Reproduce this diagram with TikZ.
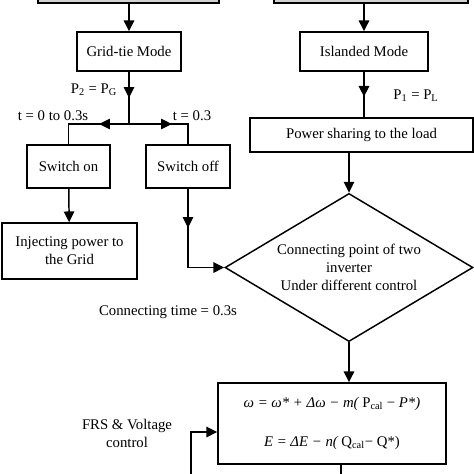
\documentclass[tikz,border=0pt]{standalone}
\usepackage{fontspec}
\setmainfont{Liberation Serif}
\usetikzlibrary{arrows.meta,shapes.geometric,decorations.markings}

\begin{document}
\begin{tikzpicture}[
    font=\fontsize{10.5}{12.8}\selectfont,
    line/.style={line width=1.05pt},
    box/.style={draw, line, align=center, inner sep=2pt},
    srcbox/.style={box, fill=gray!35, minimum height=1cm},
    decision/.style={draw, line, diamond, aspect=1.485, minimum width=6.2cm, inner sep=1pt, align=center},
    note/.style={inner sep=0pt, align=center},
    arrow/.style={line, -{Triangle[length=2.7mm,width=2.6mm]}},
    midarrow/.style={line, postaction={decorate}, decoration={markings, mark=at position #1 with {\arrow{Triangle[length=2.7mm,width=2.6mm]}}}},
    midarrow/.default=0.5
  ]
    \useasboundingbox (0,0) rectangle (11.85,-11.85);
    \clip (0,0) rectangle (11.85,-11.85);

    % sources (cut at the top)
    \node[srcbox, minimum width=4.525cm] (gridsrc) at (3.2125,0.425) {};
    \node[srcbox, minimum width=4.85cm] (islsrc) at (9.275,0.425) {};

    % left branch
    \node[box, minimum width=2.6cm, minimum height=0.975cm] (gridtie) at (3.225,-1.2875) {Grid-tie Mode};
    \node[box, minimum width=2.075cm, minimum height=1.075cm] (swon) at (1.7125,-4.1625) {Switch on};
    \node[box, minimum width=2.1cm, minimum height=1.075cm] (swoff) at (4.7,-4.1625) {Switch off};
    \node[box, minimum width=3.375cm, minimum height=1.4cm] (inject) at (1.7375,-6.275) {Injecting power to\\the Grid};

    % right branch
    \node[box, minimum width=3.2cm, minimum height=0.975cm] (island) at (9.1,-1.2875) {Islanded Mode};
    \node[box, minimum width=5.575cm, minimum height=0.85cm] (share) at (9.0375,-3.375) {Power sharing to the load};
    \node[decision] (connect) at (8.725,-6.6875) {Connecting point of two\\inverter\\Under different control};
    \node[box, minimum width=5.7cm, minimum height=2.025cm] (droop) at (8.3,-10.5875)
      {{\itshape ω = ω* + Δω − m(} P\textsubscript{cal} − {\itshape P*)}\\[15pt]
       {\itshape E = ΔE − n(} Q\textsubscript{cal}− Q*)};

    % labels
    \node[note] (pgrid) at (2.35,-2.25) {P\textsubscript{2} = P\textsubscript{G}};
    \node[note] (pload) at (10.4,-2.4) {P\textsubscript{1} = P\textsubscript{L}};
    \node[note] (tstart) at (1.325,-2.9) {t = 0 to 0.3s};
    \node[note] (tend) at (4.8,-2.9) {t = 0.3};
    \node[note] (ctime) at (4.2,-7.8125) {Connecting time = 0.3s};
    \node[note] (frs) at (3.175,-10.825) {FRS \& Voltage\\control};

    \coordinate (split) at (3.225,-3.1);
    \coordinate (splitL) at (swon.north |- split);
    \coordinate (splitR) at (swoff.north |- split);
    \coordinate (fbin) at ([yshift=-0.2125cm]droop.west);
    \coordinate (fbstart) at (4.775,-12.3);
    \coordinate (droopout) at (8.525,-12.3);

    \draw[arrow] (gridsrc.south -| gridtie.north) -- (gridtie.north);
    \draw[arrow] (islsrc.south -| island.north) -- (island.north);
    \draw[midarrow] (gridtie.south) -- (split);
    \draw[midarrow=0.37] (split) -- (splitL) -- (swon.north);
    \draw[midarrow=0.54] (split) -- (splitR) -- (swoff.north);
    \draw[arrow] (swon) -- (inject);
    \draw[arrow, midarrow=0.34] (swoff.south) |- (connect.west);
    \draw[midarrow=0.55] (island.south) -- (island.south |- share.north);
    \draw[arrow] (share.south -| connect.north) -- (connect.north);
    \draw[arrow] (connect.south) -- (connect.south |- droop.north);
    \draw[line] (droopout |- droop.south) -- (droopout);
    \draw[arrow] (fbstart) |- (fbin);
  \end{tikzpicture}
\end{document}
